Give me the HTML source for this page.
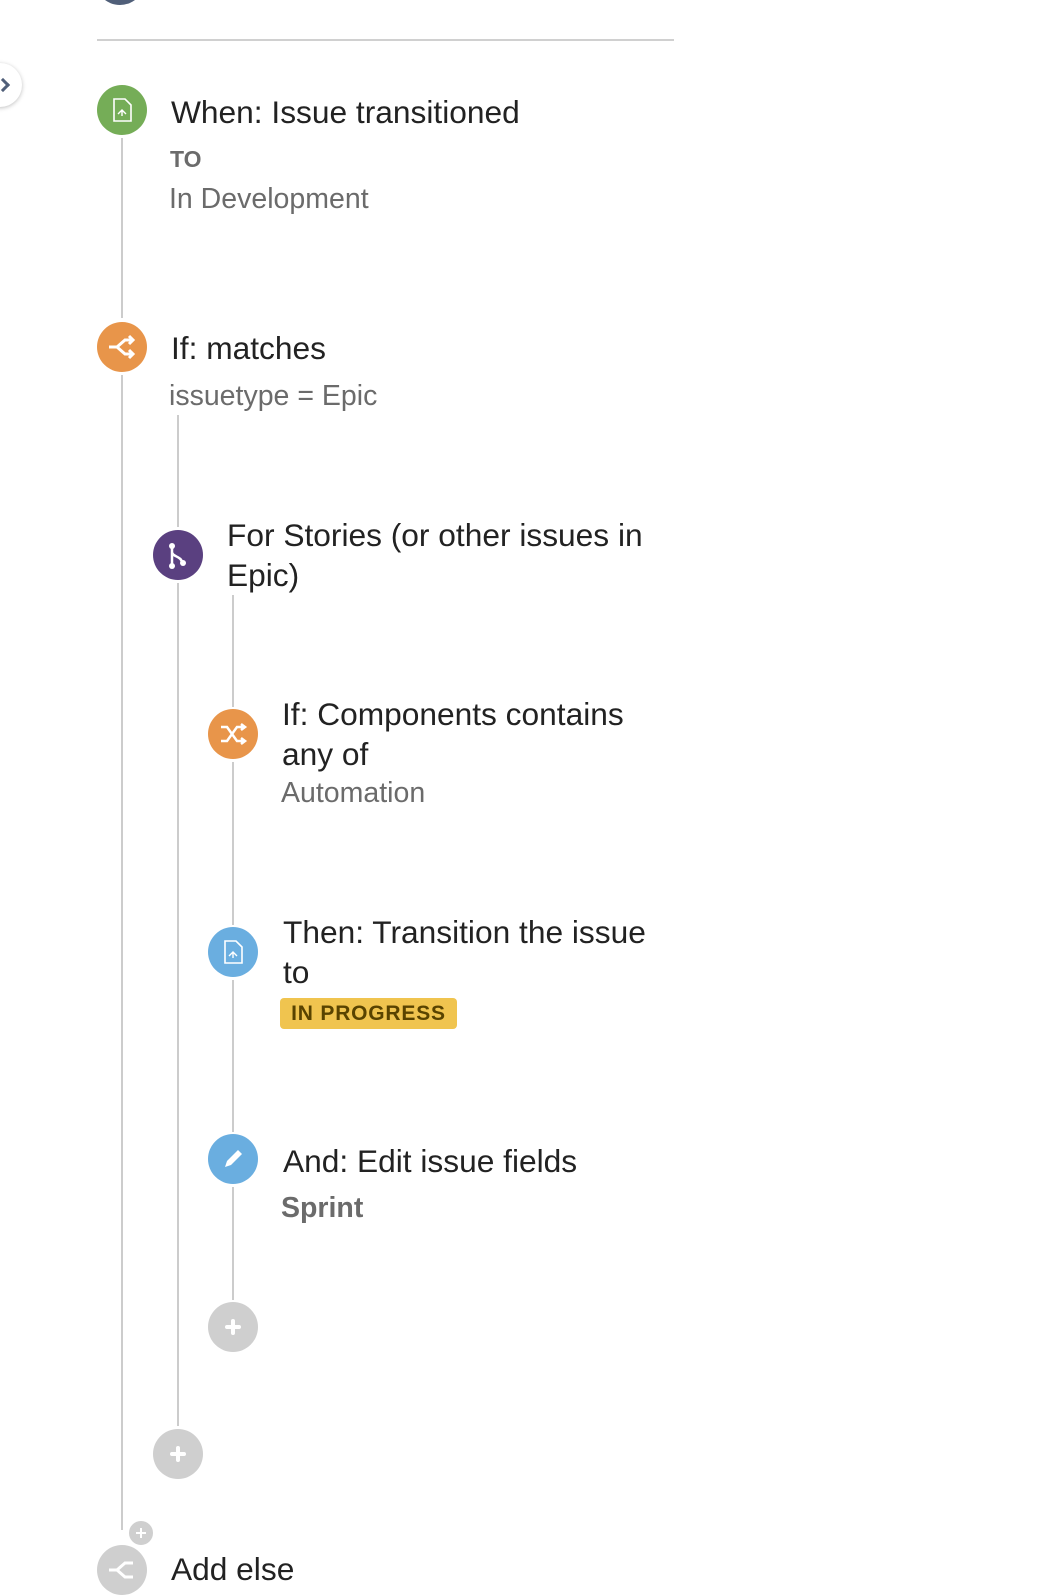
<!DOCTYPE html>
<html><head><style>
body{margin:0;width:1046px;height:1578px;overflow:hidden;background:#fff;position:relative;font-family:"Liberation Sans",sans-serif}
.a{position:absolute}
.v{position:absolute;width:2px;background:#ccc}
.c{position:absolute;width:50px;height:50px;border-radius:50%}
.t{position:absolute;font-size:31.7px;line-height:40px;color:#222;white-space:nowrap}
.s{position:absolute;font-size:28.5px;line-height:30px;color:#6b6b6b;white-space:nowrap}
</style></head><body>
<div class="c" style="left:95px;top:-45px;background:#505f79"></div>
<div class="a" style="left:97px;top:39px;width:577px;height:2px;background:#d0d0d0"></div>
<div class="a" style="left:-22px;top:63px;width:44px;height:44px;border-radius:50%;background:#fff;box-shadow:0 1px 4px rgba(0,0,0,.25)"></div>
<div class="a" style="left:-2px;top:80px;width:7px;height:7px;border-top:3px solid #505f79;border-right:3px solid #505f79;transform:rotate(45deg)"></div>

<div class="v" style="left:121px;top:138px;height:180px"></div>
<div class="v" style="left:121px;top:375px;height:1155px"></div>
<div class="v" style="left:177px;top:415px;height:112px"></div>
<div class="v" style="left:177px;top:583px;height:843px"></div>
<div class="v" style="left:232px;top:595px;height:112px"></div>
<div class="v" style="left:232px;top:762px;height:163px"></div>
<div class="v" style="left:232px;top:980px;height:152px"></div>
<div class="v" style="left:232px;top:1187px;height:113px"></div>

<div class="c" style="left:97px;top:85px;background:#75ad57"></div>
<svg class="a" style="left:97px;top:85px" width="50" height="50"><path d="M17 14h11l6 6v16h-17z" fill="none" stroke="#fff" stroke-width="1.6"/><path d="M21 29l4-4 4 4M25 25v6" fill="none" stroke="#fff" stroke-width="1.4"/></svg>
<div class="t" style="left:171px;top:92px">When: Issue transitioned</div>
<div class="s" style="left:170px;top:144px;font-size:23px;font-weight:bold">TO</div>
<div class="s" style="left:169px;top:184px">In Development</div>

<div class="c" style="left:97px;top:322px;background:#e8954a"></div>
<svg class="a" style="left:97px;top:322px" width="50" height="50"><path d="M12 25h8l8-7h8M20 25l8 7h8M32 14l4 4-4 4M32 28l4 4-4 4" fill="none" stroke="#fff" stroke-width="3"/></svg>
<div class="t" style="left:171px;top:328px">If: matches</div>
<div class="s" style="left:169px;top:381px">issuetype = Epic</div>

<div class="c" style="left:153px;top:530px;background:#5a4080"></div>
<svg class="a" style="left:153px;top:530px" width="50" height="50"><path d="M19 16v20M19 22c0 5 10 4 10 11" fill="none" stroke="#fff" stroke-width="2.5"/><circle cx="19" cy="16" r="3" fill="#fff"/><circle cx="19" cy="36" r="3" fill="#fff"/><circle cx="30" cy="33" r="3" fill="#fff"/></svg>
<div class="t" style="left:227px;top:515px">For Stories (or other issues in<br>Epic)</div>

<div class="c" style="left:208px;top:709px;background:#e8954a"></div>
<svg class="a" style="left:208px;top:709px" width="50" height="50"><path d="M13 18h6l10 14h7M13 32h6l10-14h7M33 15l4 3-4 3M33 29l4 3-4 3" fill="none" stroke="#fff" stroke-width="2.5"/></svg>
<div class="t" style="left:282px;top:694px">If: Components contains<br>any of</div>
<div class="s" style="left:281px;top:778px">Automation</div>

<div class="c" style="left:208px;top:927px;background:#6aaee0"></div>
<svg class="a" style="left:208px;top:927px" width="50" height="50"><path d="M17 14h11l6 6v16h-17z" fill="none" stroke="#fff" stroke-width="1.6"/><path d="M21 29l4-4 4 4M25 25v6" fill="none" stroke="#fff" stroke-width="1.4"/></svg>
<div class="t" style="left:283px;top:912px">Then: Transition the issue<br>to</div>
<div class="a" style="left:280px;top:998px;width:177px;height:31px;border-radius:4px;background:#f0c44f;color:#594300;font-weight:bold;font-size:21px;line-height:31px;text-align:center;letter-spacing:.8px">IN PROGRESS</div>

<div class="c" style="left:208px;top:1134px;background:#6aaee0"></div>
<svg class="a" style="left:208px;top:1134px" width="50" height="50"><path d="M17 33l2-6 11-11 4 4-11 11z" fill="#fff"/></svg>
<div class="t" style="left:283px;top:1141px">And: Edit issue fields</div>
<div class="s" style="left:281px;top:1193px;font-weight:bold">Sprint</div>

<div class="c" style="left:208px;top:1302px;background:#cfcfcf"></div>
<div class="a" style="left:225px;top:1325px;width:16px;height:4px;background:#fff;border-radius:2px"></div>
<div class="a" style="left:231px;top:1319px;width:4px;height:16px;background:#fff;border-radius:2px"></div>

<div class="c" style="left:153px;top:1429px;background:#cfcfcf"></div>
<div class="a" style="left:170px;top:1452px;width:16px;height:4px;background:#fff;border-radius:2px"></div>
<div class="a" style="left:176px;top:1446px;width:4px;height:16px;background:#fff;border-radius:2px"></div>

<div class="c" style="left:97px;top:1545px;background:#cfcfcf"></div>
<svg class="a" style="left:97px;top:1545px" width="50" height="50"><path d="M12 25h8l8-7h8M20 25l8 7h8" fill="none" stroke="#fff" stroke-width="3"/></svg>
<div class="a" style="left:129px;top:1521px;width:24px;height:24px;border-radius:50%;background:#cfcfcf;border:2px solid #fff;margin:-2px"></div>
<div class="a" style="left:136px;top:1532px;width:10px;height:2px;background:#fff"></div>
<div class="a" style="left:140px;top:1528px;width:2px;height:10px;background:#fff"></div>
<div class="t" style="left:171px;top:1549px">Add else</div>
</body></html>
